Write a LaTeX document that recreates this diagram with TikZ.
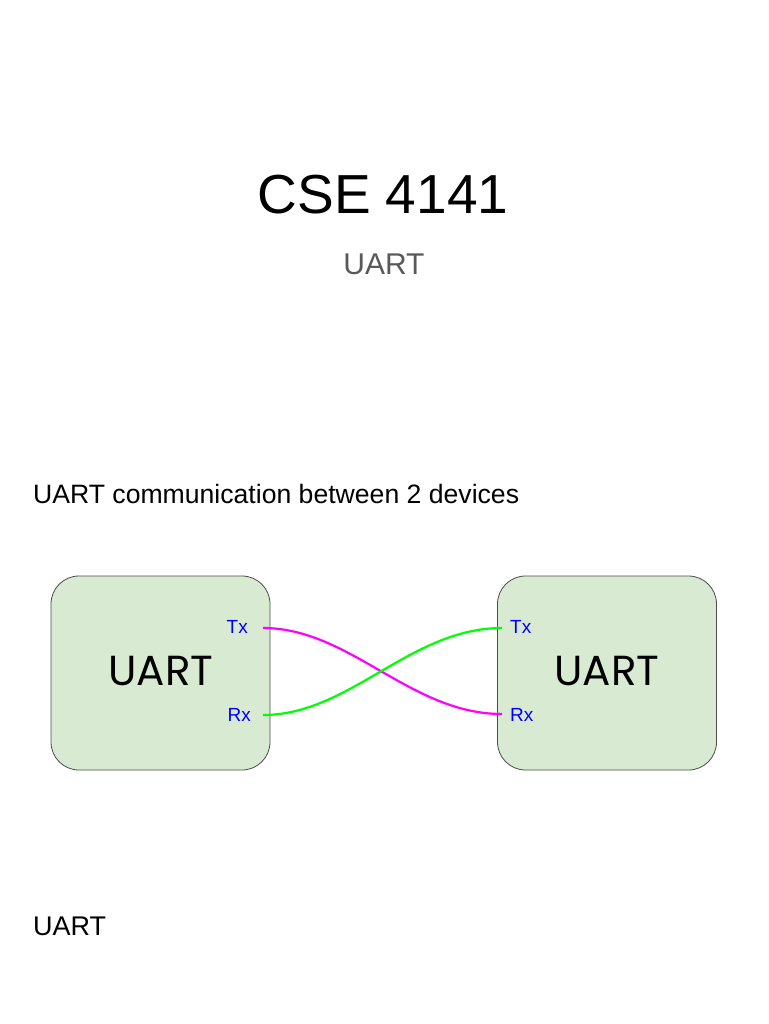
\documentclass[tikz,border=0pt]{standalone}
\usepackage{fontspec}
\setmainfont{Liberation Sans}
\newfontfamily\pop{Poppins}
\definecolor{boxfill}{HTML}{D9EAD3}
\definecolor{mag}{HTML}{FF00FF}
\definecolor{grn}{HTML}{00FF00}
\definecolor{gry}{HTML}{595959}
\begin{document}
\begin{tikzpicture}[x=1pt,y=-1pt,
  dev/.style={draw=black!70,line width=0.8pt,fill=boxfill,rounded corners=28pt,minimum width=219pt,minimum height=194pt,inner sep=0pt},
  lbl/.style={font=\pop\fontsize{42}{42}\selectfont},
  pin/.style={text=blue,font=\fontsize{19}{19}\selectfont,inner sep=0pt},
  wire/.style={line width=2.2pt}]
\useasboundingbox (0,0) rectangle (768,1024);
\node (title) at (383,195) {\fontsize{55}{55}\selectfont CSE 4141};
\node[text=gry] (sub) at (384,264) {\fontsize{30}{30}\selectfont UART};
\node[anchor=west,inner sep=0pt] (cap) at (33,494) {\fontsize{26.6}{27}\selectfont UART communication between 2 devices};
\node[anchor=west,inner sep=0pt] (foot) at (33,926) {\fontsize{27}{27}\selectfont UART};
\node[dev] (d1) at (160.5,673) {};
\node[dev] (d2) at (607,673) {};
\node[lbl] at (161,671) {UART};
\node[lbl] at (607,671) {UART};
\node[pin,anchor=east] (tx1) at (248,627) {Tx};
\node[pin,anchor=east] (rx1) at (251,715) {Rx};
\node[pin,anchor=west] (tx2) at (510,627) {Tx};
\node[pin,anchor=west] (rx2) at (510,715) {Rx};
\coordinate (a1) at (263,628);
\coordinate (b1) at (263,715);
\coordinate (a2) at (502,628);
\coordinate (b2) at (502,714);
\draw[wire,mag] (a1) .. controls (350,628) and (410,714) .. (b2);
\draw[wire,grn] (b1) .. controls (350,715) and (410,628) .. (a2);
\end{tikzpicture}
\end{document}
